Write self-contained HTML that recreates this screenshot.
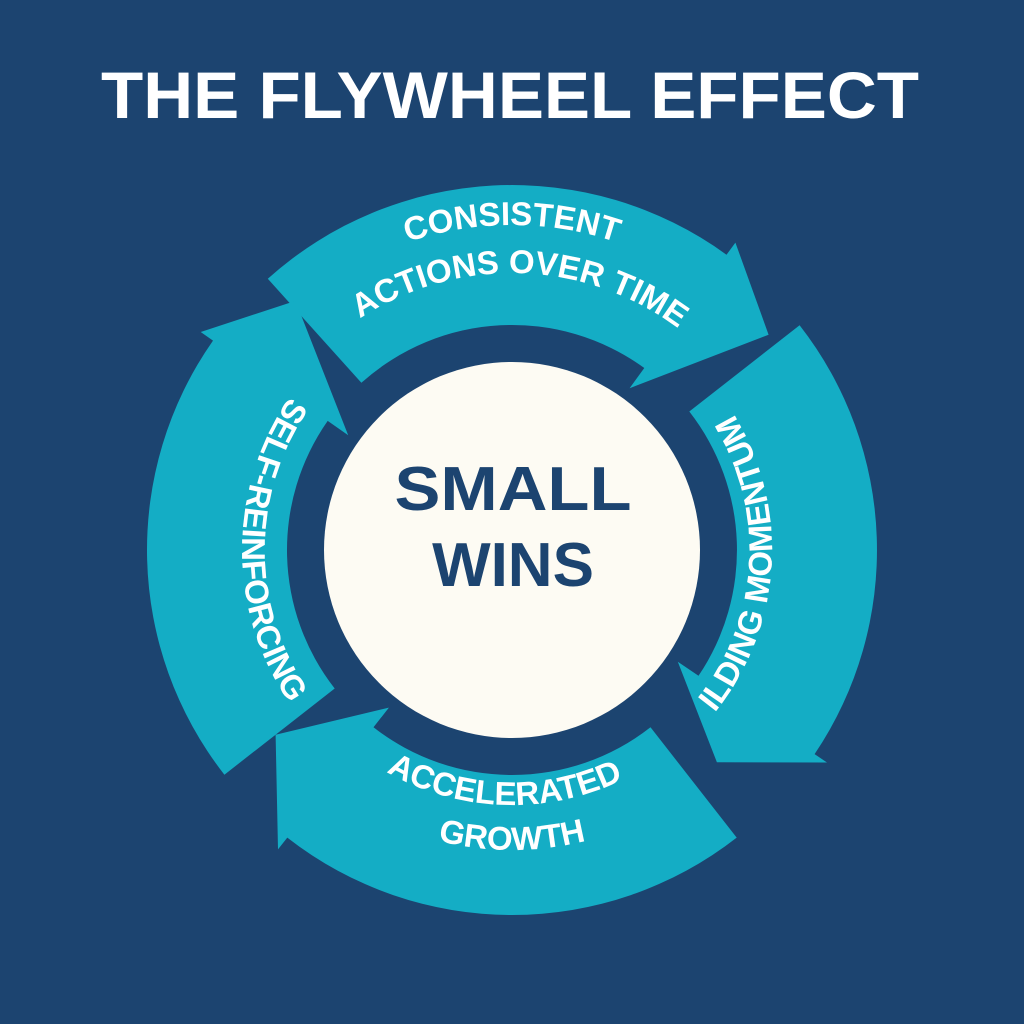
<!DOCTYPE html>
<html><head><meta charset="utf-8"><style>
html,body{margin:0;padding:0;background:#1c4470;}
svg{display:block}
text{font-family:"Liberation Sans",sans-serif;font-weight:bold;}
</style></head><body>
<svg id="s" width="1024" height="1024" viewBox="0 0 1024 1024" xmlns="http://www.w3.org/2000/svg">
<rect width="1024" height="1024" fill="#1c4470"/>
<g id="arrows" fill="#14adc5"></g>
<circle cx="512" cy="550" r="188" fill="#fdfbf3"/>
<defs>
<path id="t1" d="M 187 550 A 325 325 0 0 1 837 550"/>
<path id="t2" d="M 235 550 A 277 277 0 0 1 789 550"/>
<path id="r1" d="M 512 810 A 260 260 0 0 0 512 290"/>
<path id="l1" d="M 512 280 A 270 270 0 0 0 512 820"/>
<path id="b1" d="M 257 550 A 255 255 0 0 0 767 550"/>
<path id="b2" d="M 212 550 A 300 300 0 0 0 812 550"/>
</defs>
<g fill="#ffffff" font-size="33">
<text><textPath href="#t1" startOffset="50%" text-anchor="middle">CONSISTENT</textPath></text>
<text><textPath href="#t2" startOffset="51%" text-anchor="middle">ACTIONS OVER TIME</textPath></text>
<text><textPath href="#r1" startOffset="48%" text-anchor="middle">ILDING MOMENTUM</textPath></text>
<text><textPath href="#l1" startOffset="50%" text-anchor="middle">SELF-REINFORCING</textPath></text>
<text><textPath href="#b1" startOffset="49%" text-anchor="middle">ACCELERATED</textPath></text>
<text><textPath href="#b2" startOffset="50%" text-anchor="middle">GROWTH</textPath></text>
</g>
<text x="510" y="118" fill="#ffffff" font-size="66" text-anchor="middle" textLength="818" lengthAdjust="spacingAndGlyphs">THE FLYWHEEL EFFECT</text>
<text x="513" y="510" fill="#1c4470" font-size="62" text-anchor="middle" textLength="237" lengthAdjust="spacingAndGlyphs">SMALL</text>
<text x="513" y="586" fill="#1c4470" font-size="62" text-anchor="middle">WINS</text>
</svg>
<script>
(function(){
var cx=512,cy=550,ri=225,ro=365;
function P(r,a){a=a*Math.PI/180;return (cx+r*Math.cos(a)).toFixed(1)+" "+(cy+r*Math.sin(a)).toFixed(1);}
function arrow(a0,a1,a2,tipR){
 var d="M "+P(ro,a0)+" A "+ro+" "+ro+" 0 0 1 "+P(ro,a1)+
 " L "+P(ro+15,a1)+" L "+P(tipR,a2)+" L "+P(ri-25,a1)+" L "+P(ri,a1)+
 " A "+ri+" "+ri+" 0 0 0 "+P(ri,a0)+" Z";
 var p=document.createElementNS("http://www.w3.org/2000/svg","path");
 p.setAttribute("d",d);document.getElementById("arrows").appendChild(p);
}
arrow(-132,-54,-40,335);
arrow(-38,34,46,295);
arrow(52,128,142,300);
arrow(142,215,229,330);
})();
</script>
</body></html>
